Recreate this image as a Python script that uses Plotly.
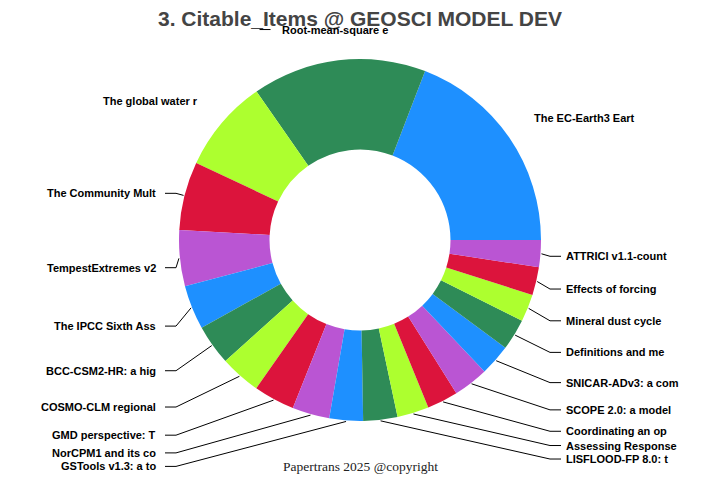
import math
import plotly.graph_objects as go

titles = [
    "The EC-Earth3 Eart", "Root-mean-square e", "The global water r",
    "The Community Mult", "TempestExtremes v2", "The IPCC Sixth Ass",
    "BCC-CSM2-HR: a hig", "COSMO-CLM regional", "GMD perspective: T",
    "NorCPM1 and its co", "GSTools v1.3: a to", "LISFLOOD-FP 8.0: t",
    "Assessing Response", "Coordinating an op", "SCOPE 2.0: a model",
    "SNICAR-ADv3: a com", "Definitions and me", "Mineral dust cycle",
    "Effects of forcing", "ATTRICI v1.1-count",
]
values = [69, 56, 30, 22, 18, 14.2, 13, 13.1, 13.2, 12, 10.8, 11, 10.2, 10,
          11.3, 10, 10.1, 8.8, 9, 8.7]
palette = ["#1E90FF", "#2E8B57", "#ADFF2F", "#DC143C", "#BA55D3"]
colors = [palette[i % len(palette)] for i in range(len(values))]

# ---- geometry (pixels) ----
W, H = 720, 480
CX, CY, R = 360, 240, 181
total = sum(values)


def px(x):
    return x / W


def py(y):
    return 1 - y / H


fig = go.Figure(go.Pie(
    labels=titles,
    values=values,
    textinfo="none",
    hole=0.5,
    sort=False,
    direction="counterclockwise",
    rotation=90 - values[0] / total * 360,
    marker=dict(colors=colors),
    showlegend=False,
    domain=dict(x=[px(CX - R), px(CX + R)], y=[py(CY + R), py(CY - R)]),
))

# ---- label layout computed from slice angles ----
mids = []
acc = 0.0
for v in values:
    mids.append(math.radians((acc + v / 2) / total * 360))
    acc += v

labels = []
for i, th in enumerate(mids):
    s, c = math.sin(th), math.cos(th)
    side = "right" if c >= 0 else "left"
    if s > 0.9:
        mode = "top"
        y = CY - 212 * s
    elif s > 0.3:
        mode = "ring"
        y = CY - 215 * s
    else:
        mode = "column"
        y = CY + (0 if side == "right" else 6) - 215 * s
    labels.append(dict(i=i, th=th, side=side, mode=mode, y=y))

gap, ymax = 13.5, 467
for side in ("right", "left"):
    grp = sorted([l for l in labels if l["side"] == side], key=lambda l: l["y"])
    for k in range(1, len(grp)):
        grp[k]["y"] = max(grp[k]["y"], grp[k - 1]["y"] + gap)
    if grp and grp[-1]["y"] > ymax:
        grp[-1]["y"] = ymax
        for k in range(len(grp) - 2, -1, -1):
            grp[k]["y"] = min(grp[k]["y"], grp[k + 1]["y"] - gap)

annotations = []
shapes = []
lab_font = dict(family="Liberation Sans, Arial, sans-serif", size=11, color="black")
for l in labels:
    th, y = l["th"], l["y"]
    text = "<b>" + titles[l["i"]] + "</b>"
    if l["mode"] == "top":
        x = CX + 212 * math.cos(th)
        annotations.append(dict(text=text, x=px(x), y=py(y), xanchor="center", yanchor="middle"))
        shapes.append(dict(type="line", x0=px(x - 75), x1=px(x - 64), y0=py(y), y1=py(y)))
    elif l["mode"] == "ring":
        x = CX + 209 * math.cos(th)
        annotations.append(dict(text=text, x=px(x), y=py(y),
                                xanchor="left" if l["side"] == "right" else "right",
                                yanchor="middle"))
    else:
        sx = CX + (R + 1) * math.cos(th)
        sy = CY - (R + 1) * math.sin(th)
        if l["side"] == "right":
            xa, xb, xt, anc = CX + 190, CX + 201, CX + 204, "left"
        else:
            xa, xb, xt, anc = CX - 184, CX - 195, CX - 202, "right"
        path = "M{},{} L{},{} L{},{}".format(px(sx), py(sy), px(xa), py(y), px(xb), py(y))
        shapes.append(dict(type="path", path=path))
        annotations.append(dict(text=text, x=px(xt), y=py(y), xanchor=anc, yanchor="middle"))

for a in annotations:
    a.update(xref="paper", yref="paper", showarrow=False, font=lab_font)
for s in shapes:
    s.update(xref="paper", yref="paper", line=dict(color="black", width=1))

annotations.append(dict(text="Papertrans 2025 @copyright", x=px(CX), y=py(466),
                        xref="paper", yref="paper", showarrow=False,
                        xanchor="center", yanchor="middle",
                        font=dict(family="Liberation Serif, Times New Roman, serif",
                                  size=13.5, color="#222")))

fig.update_layout(
    width=W, height=H,
    margin=dict(l=0, r=0, t=0, b=0),
    paper_bgcolor="white",
    title=dict(text="<b>3. Citable_Items @ GEOSCI MODEL DEV</b>", x=0.5, y=0.962,
               xanchor="center", yanchor="middle",
               font=dict(family="Liberation Sans, Arial, sans-serif", size=21, color="#444")),
    annotations=annotations,
    shapes=shapes,
)

fig.write_html("out.html")
